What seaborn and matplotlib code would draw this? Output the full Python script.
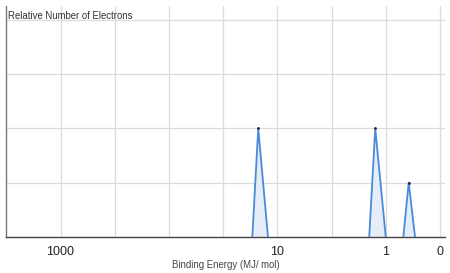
import matplotlib
matplotlib.use("Agg")
import matplotlib.pyplot as plt
import seaborn as sns
import numpy as np

# Data
peak_energy = [15.0, 1.25, 0.614]      # apex position (MJ/mol)
peak_left = [17.0, 1.42, 0.688]        # higher-energy base
peak_right = [12.2, 1.00, 0.537]       # lower-energy base
peak_height = [2, 2, 1]                # relative number of electrons

tick_values = [1000, 316.2, 100, 31.62, 10, 3.162, 1, 0.3162]
tick_labels = ["1000", "", "", "", "10", "", "1", "0"]
y_grid = [1, 2, 3, 4]

sns.set_style("white")
plt.rcParams['font.family'] = ['Liberation Sans', 'DejaVu Sans']

fig = plt.figure(figsize=(4.5, 2.73), dpi=100)
ax = fig.add_axes([6.3 / 450, 1 - 236.7 / 273, (445 - 6.3) / 450, (236.7 - 6) / 273])

line_c = "#4a8ad8"
fill_c = "#e4edf8"
for e, l, r, h in zip(peak_energy, peak_left, peak_right, peak_height):
    xs = [l, e, r]
    ys = [0, h, 0]
    ax.fill(xs, ys, color=fill_c, zorder=2, linewidth=0)
    sns.lineplot(x=xs, y=ys, sort=False, estimator=None, ax=ax,
                 color=line_c, linewidth=1.3, zorder=3)
    sns.scatterplot(x=[e], y=[h], ax=ax, color="#1a2a44", s=4,
                    linewidth=0, zorder=4)

ax.set_xscale("log")
ax.set_xlim(3162, 0.284)
ax.set_ylim(0, 4.26)
ax.set_xticks(tick_values)
ax.set_xticklabels(tick_labels, fontsize=9, color="#222222")
ax.xaxis.set_minor_locator(matplotlib.ticker.NullLocator())
ax.set_yticks(y_grid)
ax.set_yticklabels([])
ax.tick_params(axis="both", length=0, pad=7)
ax.grid(True, color="#dcdcdc", linewidth=0.9, zorder=0)
ax.set_axisbelow(True)

for s in ["top", "right"]:
    ax.spines[s].set_visible(False)
ax.spines["left"].set_color("#777777")
ax.spines["left"].set_linewidth(1.0)
ax.spines["bottom"].set_color("#444444")
ax.spines["bottom"].set_linewidth(1.0)

ax.set_xlabel("Binding Energy (MJ/ mol)", fontsize=6.9, color="#444444", labelpad=1)
ax.set_ylabel("")
ax.text(0.004, 0.955, "Relative Number of Electrons", transform=ax.transAxes,
        fontsize=6.9, color="#333333", ha="left", va="center")

fig.savefig("out.png", dpi=100)
